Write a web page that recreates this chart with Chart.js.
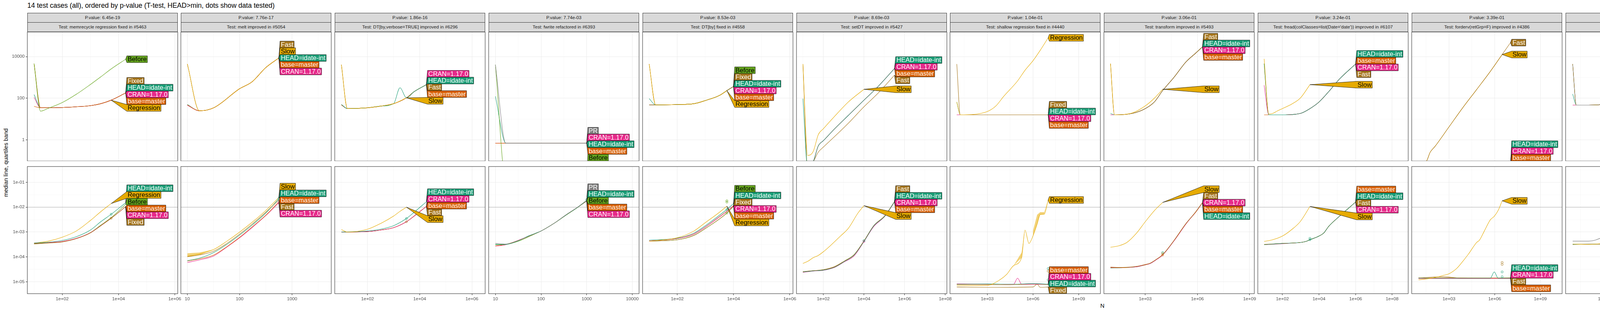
<!DOCTYPE html>
<html>
<head>
<meta charset="utf-8">
<title>atime test cases</title>
<script src="https://cdn.jsdelivr.net/npm/chart.js@4.4.1/dist/chart.umd.min.js"></script>
<style>
  html, body { margin: 0; padding: 0; background: #fff; }
  body { width: 5600px; height: 800px; position: relative; overflow: hidden;
         font-family: 'Liberation Sans', Arial, Helvetica, sans-serif; }
  .abs { position: absolute; }
  .title { left: 70px; top: 3px; font-size: 17.6px; line-height: 22px; color: #000; white-space: nowrap; }
  .strip { box-sizing: border-box; background: #D9D9D9; border: 1px solid #333; font-size: 11.7px;
           color: #1A1A1A; text-align: center; white-space: nowrap; overflow: hidden; line-height: 22px; }
  .rstrip { writing-mode: vertical-rl; line-height: 21px; }
  .axtitle { font-size: 14.7px; color: #000; white-space: nowrap; transform: translate(-50%, -50%); }
</style>
</head>
<body>
<div class="abs title">14 test cases (all), ordered by p-value (T-test, HEAD&gt;min, dots show data tested)</div>
<div class="abs axtitle" style="left:15px; top:417px; transform: translate(-50%, -50%) rotate(-90deg);">median line, quartiles band</div>
<div class="abs axtitle" style="left:2822px; top:784px;">N</div>
<script>
// series colours (Dark2-like) and label text
const seriesColors = {
  HEAD: "#1B9E77", CRAN: "#E7298A", base: "#D95F02", Before: "#66A61E",
  Regression: "#E6AB02", Fixed: "#A6761D", Slow: "#E6AB02", Fast: "#A6761D",
  PR: "#7F7F7F", Slower: "#7F7F7F"
};
const darkTextSeries = ["Before", "Regression", "Slow"];
const labelText = { HEAD: "HEAD=idate-int", CRAN: "CRAN=1.17.0", base: "base=master" };

const pValues = ["6.45e-19", "7.76e-17", "1.86e-16", "7.74e-03", "8.53e-03", "8.69e-03", "1.04e-01",
  "3.06e-01", "3.24e-01", "3.39e-01", "3.85e-01", "4.01e-01", "5.29e-01", "6.17e-01"];
const testNames = [
  "memrecycle regression fixed in #5463", "melt improved in #5054", "DT[by,verbose=TRUE] improved in #6296",
  "fwrite refactored in #6393", "DT[by] fixed in #4558", "setDT improved in #5427",
  "shallow regression fixed in #4440", "transform improved in #5493",
  "fread(colClasses=list(Date='date')) improved in #6107", "forderv(retGrp=F) improved in #4386",
  "DT[,.SD] improved in #4501", "fread(colClasses='Date') improved in #6107",
  "forderv(retGrp=T) improved in #4386", "fread(select=list(Date='date')) improved in #6107"];

// x axis (N) limits per panel, as log10 values at the panel edges
const xLimits = [[0.761, 6.106], [0.876, 3.749], [0.746, 6.508], [0.853, 4.147], [0.765, 6.114],
  [0.683, 8.08], [0.554, 10.43], [0.621, 9.27], [0.654, 8.877], [0.554, 10.43], [0.556, 10.035],
  [0.655, 8.86], [0.572, 10.43], [0.632, 8.857]];
const xBreaks = [[1e2, 1e4, 1e6], [10, 100, 1000], [1e2, 1e4, 1e6], [10, 100, 1000, 10000], [1e2, 1e4, 1e6],
  [1e2, 1e4, 1e6, 1e8], [1e3, 1e6, 1e9], [1e3, 1e6, 1e9], [1e2, 1e4, 1e6, 1e8], [1e3, 1e6, 1e9],
  [1e3, 1e6, 1e9], [1e2, 1e4, 1e6, 1e8], [1e3, 1e6, 1e9], [1e2, 1e4, 1e6, 1e8]];
const xBreakLabels = [["1e+02", "1e+04", "1e+06"], ["10", "100", "1000"], ["1e+02", "1e+04", "1e+06"],
  ["10", "100", "1000", "10000"], ["1e+02", "1e+04", "1e+06"], ["1e+02", "1e+04", "1e+06", "1e+08"],
  ["1e+03", "1e+06", "1e+09"], ["1e+03", "1e+06", "1e+09"], ["1e+02", "1e+04", "1e+06", "1e+08"],
  ["1e+03", "1e+06", "1e+09"], ["1e+03", "1e+06", "1e+09"], ["1e+02", "1e+04", "1e+06", "1e+08"],
  ["1e+03", "1e+06", "1e+09"], ["1e+02", "1e+04", "1e+06", "1e+08"]];
const minorOdd = [10, 1e3, 1e5, 1e7];
const minorHalf = [31.62, 316.2, 3162];
const minorThird = [31.62, 31623, 31622777];
const xMinorBreaks = [minorOdd, minorHalf, minorOdd, minorHalf, minorOdd, minorOdd, minorThird,
  minorThird, minorOdd, minorThird, minorThird, minorOdd, minorThird, minorOdd];

// y axes (shared per row)
const kbBreaks = [1, 100, 10000];
const kbLabels = ["1", "100", "10000"];
const kbMinor = [0.1, 10, 1000, 100000];
const kbLimits = [-1.015, 5.183];
const secBreaks = [1e-5, 1e-4, 1e-3, 1e-2, 1e-1];
const secLabels = ["1e-05", "1e-04", "1e-03", "1e-02", "1e-01"];
const secMinor = [3.162e-5, 3.162e-4, 3.162e-3, 3.162e-2, 3.162e-1];
const secLimits = [-5.476, -0.367];
const secondsLimit = 0.01;

// ---- panel 1: memrecycle ----
const p01KbTail = [[17, 35], [100, 36], [316, 39], [1000, 44], [2350, 55], [5500, 81]];
const p01Kb = {
  Regression: [[10, 4600], ...p01KbTail],
  Fixed: [[10, 4600], ...p01KbTail, [18000, 180]],
  HEAD: [[10, 150], ...p01KbTail, [18000, 180]],
  CRAN: [[10, 110], ...p01KbTail, [18000, 180]],
  base: [[10, 41], ...p01KbTail, [18000, 180]],
  Before: [[10, 4600], [17, 24], [32, 33], [100, 62], [316, 155], [1000, 457], [2350, 1070], [5500, 2560], [18000, 7500]]
};
const p01Sec = {
  Regression: [[10, 3.6e-4], [32, 4.3e-4], [100, 6.2e-4], [316, 1.1e-3], [1000, 2.9e-3], [2350, 6.6e-3], [5500, 1.4e-2]],
  Before: [[10, 3.4e-4], [32, 3.7e-4], [100, 4.1e-4], [316, 5.5e-4], [1000, 9.5e-4], [2350, 1.9e-3], [5500, 3.8e-3], [18000, 1.3e-2]],
  base: [[10, 3.5e-4], [32, 3.7e-4], [100, 4.1e-4], [316, 5.5e-4], [1000, 9.3e-4], [2350, 1.8e-3], [5500, 3.6e-3], [18000, 1.05e-2]],
  CRAN: [[10, 3.6e-4], [32, 3.8e-4], [100, 4.2e-4], [316, 5.6e-4], [1000, 9.4e-4], [2350, 1.8e-3], [5500, 3.6e-3], [18000, 1.05e-2]],
  Fixed: [[10, 3.3e-4], [32, 3.6e-4], [100, 4.0e-4], [316, 5.4e-4], [1000, 9.2e-4], [2350, 1.8e-3], [5500, 3.6e-3], [18000, 1.05e-2]],
  HEAD: [[10, 3.6e-4], [32, 3.9e-4], [100, 4.6e-4], [316, 6.5e-4], [1000, 1.2e-3], [2350, 2.6e-3], [5500, 5.2e-3], [18000, 1.5e-2]]
};
const p01KbOrder = ["Before", "Fixed", "HEAD", "CRAN", "base", "Regression"];
const p01SecOrder = ["HEAD", "Regression", "Before", "base", "CRAN", "Fixed"];
const p01Dots = [["HEAD", 5500, 5.2e-3], ["Fixed", 5500, 3.6e-3]];

// ---- panel 2: melt ----
const p02KbTail = [[17, 25], [32, 35], [100, 290], [170, 600], [316, 3000], [560, 8600]];
const p02Kb = {
  HEAD: [[10, 50], ...p02KbTail],
  CRAN: [[10, 46], ...p02KbTail],
  base: [[10, 48], ...p02KbTail],
  Fast: [[10, 4400], ...p02KbTail],
  Slow: [[10, 4400], ...p02KbTail]
};
const p02Sec = {
  CRAN: [[10, 6.0e-5], [17, 7.6e-5], [32, 1.1e-4], [57, 2.5e-4], [100, 5.9e-4], [178, 1.6e-3], [316, 4.6e-3], [560, 1.5e-2]],
  base: [[10, 6.9e-5], [17, 8.3e-5], [32, 1.2e-4], [57, 2.6e-4], [100, 6.2e-4], [178, 1.7e-3], [316, 4.8e-3], [560, 1.65e-2]],
  HEAD: [[10, 7.1e-5], [17, 8.9e-5], [32, 1.5e-4], [57, 3.2e-4], [100, 7.6e-4], [178, 2.0e-3], [316, 5.8e-3], [560, 2.2e-2]],
  Fast: [[10, 1.02e-4], [17, 1.2e-4], [32, 1.7e-4], [57, 3.5e-4], [100, 8.3e-4], [178, 2.2e-3], [316, 6.3e-3], [560, 1.95e-2]],
  Slow: [[10, 1.07e-4], [17, 1.3e-4], [32, 2.0e-4], [57, 4.3e-4], [100, 1.0e-3], [178, 2.6e-3], [316, 7.4e-3], [560, 2.45e-2]]
};
const p02KbOrder = ["Fast", "Slow", "HEAD", "base", "CRAN"];
const p02SecOrder = ["Slow", "HEAD", "base", "Fast", "CRAN"];
const p02Dots = [["HEAD", 560, 2.2e-2], ["CRAN", 560, 1.5e-2]];
const p02Bands = [["Slow", [[10, 1.0e-4, 1.4e-4], [17, 1.2e-4, 1.5e-4], [32, 2.0e-4, 2.0e-4]]]];

// ---- panel 3: DT[by,verbose=TRUE] ----
const p03KbTail = [[17, 32], [100, 35], [316, 42], [1000, 55], [3100, 105]];
const p03Kb = {
  CRAN: [[10, 48], ...p03KbTail, [6200, 210], [18000, 450]],
  base: [[10, 48], ...p03KbTail, [6200, 210], [18000, 450]],
  Fast: [[10, 4100], ...p03KbTail, [6200, 210], [18000, 450]],
  HEAD: [[10, 51], [17, 32], [100, 35], [316, 42], [1000, 55], [1760, 320], [3100, 105], [6200, 210], [18000, 450]],
  Slow: [[10, 4100], ...p03KbTail]
};
const p03Sec = {
  base: [[10, 1.0e-3], [100, 1.04e-3], [316, 1.2e-3], [1000, 1.5e-3], [3100, 2.6e-3], [6200, 4.5e-3], [18000, 1.08e-2]],
  Fast: [[10, 1.0e-3], [100, 1.04e-3], [316, 1.2e-3], [1000, 1.5e-3], [3100, 2.6e-3], [6200, 4.4e-3], [18000, 1.06e-2]],
  CRAN: [[10, 1.0e-3], [100, 1.05e-3], [316, 1.2e-3], [1000, 1.5e-3], [3100, 2.6e-3], [6200, 4.4e-3], [18000, 1.07e-2]],
  HEAD: [[10, 1.0e-3], [100, 1.1e-3], [316, 1.3e-3], [1000, 1.8e-3], [3100, 3.5e-3], [6200, 6.3e-3], [18000, 1.65e-2]],
  Slow: [[10, 1.25e-3], [17, 1.0e-3], [100, 1.3e-3], [316, 2.2e-3], [1000, 4.4e-3], [1760, 6.8e-3], [3100, 1.0e-2]]
};
const p03KbOrder = ["CRAN", "HEAD", "Fast", "base", "Slow"];
const p03SecOrder = ["HEAD", "CRAN", "base", "Fast", "Slow"];
const p03Dots = [["HEAD", 3100, 3.5e-3], ["Fast", 3100, 2.6e-3]];

// ---- panel 4: fwrite ----
const p04Kb = {
  CRAN: [[10, 0.69], [1000, 0.69]],
  base: [[10, 0.69], [1000, 0.69]],
  HEAD: [[10, 124], [17, 0.69], [1000, 0.69]],
  Before: [[10, 4100], [17, 0.01], [1000, 0.01]],
  PR: [[10, 4100], [17, 0.69], [1000, 0.69]]
};
const p04Sec = {
  CRAN: [[10, 2.7e-4], [17, 3.1e-4], [32, 4.7e-4], [55, 7.0e-4], [100, 1.1e-3], [190, 2.2e-3], [350, 4.8e-3], [630, 9.8e-3], [1000, 1.75e-2]],
  base: [[10, 2.8e-4], [17, 3.2e-4], [32, 4.6e-4], [55, 6.9e-4], [100, 1.1e-3], [190, 2.2e-3], [350, 4.8e-3], [630, 9.8e-3], [1000, 1.8e-2]],
  Before: [[10, 3.1e-4], [17, 3.2e-4], [32, 4.3e-4], [55, 6.6e-4], [100, 1.1e-3], [190, 2.2e-3], [350, 4.7e-3], [630, 9.7e-3], [1000, 1.8e-2]],
  HEAD: [[10, 3.2e-4], [17, 3.2e-4], [32, 4.5e-4], [55, 7.2e-4], [100, 1.1e-3], [190, 2.2e-3], [350, 4.8e-3], [630, 9.8e-3], [1000, 1.85e-2]],
  PR: [[10, 3.5e-4], [17, 3.3e-4], [32, 4.6e-4], [55, 7.0e-4], [100, 1.1e-3], [190, 2.2e-3], [350, 4.9e-3], [630, 1.0e-2], [1000, 1.9e-2]]
};
const p04KbOrder = ["PR", "CRAN", "HEAD", "base", "Before"];
const p04SecOrder = ["PR", "HEAD", "Before", "base", "CRAN"];
const p04Dots = [["HEAD", 1000, 2.0e-2]];

// ---- panel 5: DT[by] ----
const p05KbTail = [[17, 48], [100, 50], [390, 55], [1000, 78], [3200, 138], [5800, 234]];
const p05Kb = {
  base: [[10, 48], ...p05KbTail, [10000, 370]],
  CRAN: [[10, 48], ...p05KbTail, [10000, 370]],
  Before: [[10, 48], ...p05KbTail, [10000, 370]],
  HEAD: [[10, 96], ...p05KbTail, [10000, 370]],
  Fixed: [[10, 4400], ...p05KbTail, [10000, 370]],
  Regression: [[10, 4400], ...p05KbTail]
};
const p05Sec = {
  Before: [[10, 4.3e-4], [100, 4.9e-4], [390, 7.4e-4], [1000, 1.4e-3], [3200, 3.4e-3], [5800, 5.8e-3], [10000, 1.07e-2]],
  Fixed: [[10, 4.3e-4], [100, 4.9e-4], [390, 7.3e-4], [1000, 1.4e-3], [3200, 3.4e-3], [5800, 5.9e-3], [10000, 1.1e-2]],
  base: [[10, 4.4e-4], [100, 5.5e-4], [390, 8.4e-4], [1000, 1.6e-3], [3200, 4.2e-3], [5800, 6.9e-3], [10000, 1.17e-2]],
  CRAN: [[10, 4.4e-4], [100, 5.5e-4], [390, 8.3e-4], [1000, 1.6e-3], [3200, 4.1e-3], [5800, 6.8e-3], [10000, 1.15e-2]],
  HEAD: [[10, 4.7e-4], [100, 5.7e-4], [390, 9.1e-4], [1000, 1.8e-3], [3200, 4.8e-3], [5800, 8.1e-3], [10000, 1.4e-2]],
  Regression: [[10, 4.3e-4], [100, 5.9e-4], [390, 1.1e-3], [1000, 2.4e-3], [3200, 6.3e-3], [5800, 1.1e-2]]
};
const p05KbOrder = ["Before", "Fixed", "HEAD", "CRAN", "base", "Regression"];
const p05SecOrder = ["Before", "HEAD", "Fixed", "CRAN", "base", "Regression"];
const p05Dots = [["HEAD", 5800, 8.1e-3], ["Before", 5800, 5.8e-3], ["Before", 5800, 1.6e-2], ["Before", 5800, 1.8e-2]];

// ---- panel 6: setDT ----
const p06KbTail = [[17, 0.05], [32, 0.09], [57, 0.52], [100, 0.91], [360, 3.4], [1700, 15], [10000, 81], [48000, 355], [320000, 2700]];
const p06Kb = {
  Fast: [[10, 4400], [17, 0.05], [32, 0.09], [57, 0.26], [100, 0.45], [360, 1.45], [1700, 6.3], [10000, 39], [48000, 170], [320000, 1290]],
  base: [[10, 0.05], ...p06KbTail],
  CRAN: [[10, 0.05], ...p06KbTail],
  HEAD: [[10, 96], ...p06KbTail],
  Slow: [[10, 4400], [17, 0.18], [32, 0.28], [57, 1.8], [100, 3.4], [360, 13.5], [1700, 66], [10000, 270]]
};
const p06Sec = {
  Fast: [[10, 2.6e-5], [32, 2.8e-5], [100, 3.1e-5], [360, 4.1e-5], [1100, 6.9e-5], [3300, 1.25e-4], [10000, 4.4e-4], [31000, 1.85e-3], [105000, 4.5e-3], [320000, 1.7e-2]],
  base: [[10, 2.5e-5], [32, 2.8e-5], [100, 3.0e-5], [360, 4.0e-5], [1100, 6.7e-5], [3300, 1.2e-4], [10000, 4.3e-4], [31000, 1.8e-3], [105000, 4.4e-3], [320000, 1.65e-2]],
  CRAN: [[10, 2.4e-5], [32, 2.7e-5], [100, 2.9e-5], [360, 3.8e-5], [1100, 6.4e-5], [3300, 1.1e-4], [10000, 4.1e-4], [31000, 1.7e-3], [105000, 4.2e-3], [320000, 1.6e-2]],
  HEAD: [[10, 2.5e-5], [32, 2.75e-5], [100, 2.95e-5], [360, 3.9e-5], [1100, 6.6e-5], [3300, 1.2e-4], [10000, 4.2e-4], [31000, 1.8e-3], [105000, 4.3e-3], [320000, 1.65e-2]],
  Slow: [[10, 5.5e-5], [17, 6.6e-5], [32, 9.3e-5], [57, 1.15e-4], [100, 1.6e-4], [230, 2.9e-4], [700, 6.9e-4], [1700, 1.4e-3], [5100, 5.8e-3], [10000, 1.15e-2]]
};
const p06KbOrder = ["HEAD", "CRAN", "base", "Fast", "Slow"];
const p06SecOrder = ["Fast", "HEAD", "CRAN", "base", "Slow"];
const p06Dots = [["HEAD", 10000, 4.5e-4], ["CRAN", 10000, 4.2e-4]];

// ---- panel 7: shallow ----
const p07Kb = {
  base: [[10, 16], [1e7, 16]],
  CRAN: [[10, 16], [1e7, 16]],
  HEAD: [[10, 66], [17, 16], [1e7, 16]],
  Fixed: [[10, 4400], [17, 16], [1e7, 16]],
  Regression: [[10, 66], [17, 16], [100, 16.5], [1000, 23], [3700, 43], [12000, 123], [98000, 680], [3e5, 2200], [1e6, 6300], [3e6, 20000], [1e7, 80000]]
};
const p07Sec = {
  Fixed: [[10, 6.2e-6], [1000, 6.0e-6], [1e6, 6.2e-6], [1.9e6, 8.0e-6], [3e6, 6.0e-6], [1e7, 6.2e-6]],
  base: [[10, 7.8e-6], [19000, 7.6e-6], [1e6, 8.0e-6], [1e7, 7.8e-6]],
  CRAN: [[10, 8.3e-6], [54000, 8.0e-6], [98000, 1.4e-5], [1.8e5, 8.0e-6], [1e7, 8.0e-6]],
  HEAD: [[10, 8.0e-6], [1000, 8.2e-6], [54000, 8.0e-6], [1e6, 8.5e-6], [1e7, 8.0e-6]],
  Regression: [[10, 7.2e-6], [100, 7.0e-6], [1000, 7.2e-6], [6700, 1.2e-5], [19000, 2.0e-5], [54000, 4.5e-5], [1.8e5, 9.3e-5], [3e5, 1.2e-3], [5.5e5, 3.5e-4], [1e6, 6.9e-4], [1.9e6, 2.1e-3], [3e6, 5.1e-3], [5.5e6, 5.2e-3], [1e7, 1.95e-2]]
};
const p07KbOrder = ["Regression", "Fixed", "HEAD", "CRAN", "base"];
const p07SecOrder = ["Regression", "base", "CRAN", "HEAD", "Fixed"];
const p07Dots = [["HEAD", 1e7, 3.4e-5], ["Fixed", 1e7, 2.7e-5], ["HEAD", 1e7, 1.2e-5]];
const p07Bands = [["Regression", [[1e6, 6.9e-4, 1.1e-3], [1.9e6, 2.1e-3, 5.0e-3], [3e6, 5.1e-3, 6.3e-3], [5.5e6, 5.2e-3, 6.3e-3], [1e7, 1.95e-2, 1.95e-2]]],
  ["Regression", [[54000, 4.5e-5, 4.5e-5], [1.8e5, 9.3e-5, 1.5e-4], [3e5, 1.2e-3, 1.2e-3]]]];

// ---- panel 8: transform ----
const p08KbTail = [[17, 16], [190, 19], [1000, 32], [3300, 66], [10000, 234], [45000, 1020], [2.2e5, 5600], [7.9e5, 14700], [1.95e6, 29500]];
const p08Kb = {
  base: [[10, 16], ...p08KbTail],
  CRAN: [[10, 16], ...p08KbTail],
  HEAD: [[10, 19], ...p08KbTail],
  Fast: [[10, 4600], ...p08KbTail],
  Slow: [[10, 4600], [17, 16], [51, 16.5], [190, 20], [1000, 43], [3300, 100], [10000, 270]]
};
const p08Sec = {
  HEAD: [[10, 3.6e-5], [51, 3.7e-5], [316, 4.0e-5], [1000, 4.8e-5], [1970, 5.5e-5], [4300, 7.8e-5], [10000, 1.2e-4], [45000, 4.5e-4], [2.2e5, 2.2e-3], [7.9e5, 6.3e-3], [1.95e6, 1.5e-2]],
  base: [[10, 3.7e-5], [51, 3.7e-5], [316, 4.1e-5], [1000, 4.8e-5], [1970, 5.6e-5], [4300, 7.9e-5], [10000, 1.2e-4], [45000, 4.6e-4], [2.2e5, 2.2e-3], [7.9e5, 6.2e-3], [1.95e6, 1.5e-2]],
  CRAN: [[10, 3.8e-5], [51, 3.8e-5], [316, 4.0e-5], [1000, 4.9e-5], [1970, 5.5e-5], [4300, 7.7e-5], [10000, 1.2e-4], [45000, 4.4e-4], [2.2e5, 2.1e-3], [7.9e5, 6.4e-3], [1.95e6, 1.5e-2]],
  Fast: [[10, 3.9e-5], [51, 3.8e-5], [316, 4.2e-5], [1000, 5.0e-5], [1970, 5.7e-5], [4300, 8.0e-5], [10000, 1.25e-4], [45000, 4.6e-4], [2.2e5, 2.2e-3], [7.9e5, 6.5e-3], [1.95e6, 1.55e-2]],
  Slow: [[10, 2.45e-4], [30, 2.8e-4], [87, 3.8e-4], [316, 9.1e-4], [1000, 2.6e-3], [3300, 7.2e-3], [10000, 1.55e-2]]
};
const p08KbOrder = ["Fast", "HEAD", "CRAN", "base", "Slow"];
const p08SecOrder = ["Slow", "Fast", "CRAN", "base", "HEAD"];
const p08Dots = [["base", 10000, 1.2e-4], ["Fast", 10000, 1.35e-4], ["HEAD", 10000, 1.5e-4]];

// ---- panel 9: fread(colClasses=list(Date='date')) ----
const p09KbTail = [[18, 16], [100, 16], [930, 18.6], [3200, 32], [10000, 66], [38000, 234], [1.3e5, 830], [1e6, 4400]];
const p09Kb = {
  base: [[10, 16], ...p09KbTail],
  Fast: [[10, 4600], ...p09KbTail],
  CRAN: [[10, 420], ...p09KbTail],
  HEAD: [[10, 4600], ...p09KbTail],
  Slow: [[10, 7800], [18, 17.5], [29, 18.6], [54, 25], [100, 32], [340, 54], [930, 100], [3200, 450]]
};
const p09SecTail = [[930, 3.8e-4], [1950, 4.2e-4], [3200, 4.9e-4], [10000, 6.9e-4], [18000, 9.1e-4], [34000, 1.7e-3], [1.3e5, 4.3e-3], [1e6, 1.6e-2]];
const p09Sec = {
  CRAN: [[10, 3.1e-4], [100, 3.4e-4], ...p09SecTail],
  Fast: [[10, 3.2e-4], [100, 3.5e-4], ...p09SecTail],
  base: [[10, 3.1e-4], [100, 3.5e-4], ...p09SecTail],
  HEAD: [[10, 3.1e-4], [100, 3.5e-4], ...p09SecTail],
  Slow: [[10, 4.2e-4], [29, 4.9e-4], [100, 6.9e-4], [340, 1.3e-3], [930, 2.6e-3], [3200, 1.07e-2]]
};
const p09KbOrder = ["HEAD", "base", "CRAN", "Fast", "Slow"];
const p09SecOrder = ["base", "HEAD", "Fast", "CRAN", "Slow"];
const p09Dots = [["HEAD", 3200, 4.9e-4], ["HEAD", 3200, 5.6e-4]];

// ---- panel 10: forderv(retGrp=F) ----
const p10Kb = {
  base: [[10, 0.05], [1.1e7, 0.05]],
  CRAN: [[10, 0.05], [1.1e7, 0.05]],
  HEAD: [[10, 0.05], [1.1e7, 0.05]],
  Slow: [[10, 0.09], [30, 0.09], [59, 0.26], [124, 0.5], [1000, 4.2], [8000, 35], [65000, 260], [5.2e5, 1950], [3.1e6, 12600]],
  Fast: [[10, 0.09], [30, 0.09], [59, 0.26], [124, 0.5], [1000, 4.2], [8000, 35], [65000, 260], [5.2e5, 1950], [3.1e6, 12600], [1.1e7, 47000]]
};
const p10Sec = {
  base: [[10, 1.4e-5], [1000, 1.45e-5], [1.1e7, 1.4e-5]],
  Fast: [[10, 1.45e-5], [410, 1.6e-5], [8000, 1.4e-5], [1.1e7, 1.45e-5]],
  CRAN: [[10, 1.35e-5], [1.1e7, 1.35e-5]],
  HEAD: [[10, 1.4e-5], [5.2e5, 1.4e-5], [9.4e5, 2.5e-5], [1.7e6, 1.4e-5], [1.1e7, 1.4e-5]],
  Slow: [[10, 1.2e-5], [30, 1.3e-5], [124, 1.5e-5], [410, 1.8e-5], [1000, 2.1e-5], [3300, 3.5e-5], [8000, 6.6e-5], [19000, 1.3e-4], [65000, 3.8e-4], [1e5, 4.7e-4], [2.1e5, 1.1e-3], [5.2e5, 3.1e-3], [9.4e5, 4.3e-3], [1.7e6, 7.4e-3], [3.1e6, 1.8e-2]]
};
const p10KbOrder = ["Fast", "Slow", "HEAD", "CRAN", "base"];
const p10SecOrder = ["Slow", "HEAD", "CRAN", "Fast", "base"];
const p10Dots = [["Fast", 3.1e6, 6.0e-5], ["Fast", 3.1e6, 5.0e-5], ["HEAD", 3.1e6, 2.5e-5], ["HEAD", 3.1e6, 1.6e-5]];

// ---- panel 11: DT[,.SD] ----
const p11KbTail = [[17, 47], [100, 47], [1000, 52], [5900, 73], [32000, 290], [1.05e5, 830], [3.2e5, 2500], [1e6, 10700], [5.8e6, 45000]];
const p11Kb = {
  base: [[10, 47], ...p11KbTail],
  CRAN: [[10, 47], ...p11KbTail],
  HEAD: [[10, 160], ...p11KbTail],
  Fast: [[10, 4400], ...p11KbTail],
  Slow: [[10, 4400], [17, 47], [100, 47], [1000, 52], [5900, 73], [32000, 290], [1.05e5, 830], [3.2e5, 2500]],
  Slower: [[10, 4400], [17, 47], [100, 47], [1000, 54], [5900, 91], [32000, 420]]
};
const p11Sec = {
  base: [[10, 3.2e-4], [1000, 3.3e-4], [32000, 3.8e-4], [59000, 4.8e-4], [1.05e5, 5.8e-4], [3.2e5, 1.1e-3], [1e6, 1.8e-3], [1.8e6, 2.6e-3], [5.8e6, 1.26e-2]],
  CRAN: [[10, 3.2e-4], [1000, 3.3e-4], [32000, 3.8e-4], [59000, 4.9e-4], [1.05e5, 5.9e-4], [3.2e5, 1.1e-3], [1e6, 1.8e-3], [1.8e6, 2.6e-3], [5.8e6, 1.26e-2]],
  Fast: [[10, 3.2e-4], [1000, 3.3e-4], [32000, 3.8e-4], [59000, 5.5e-4], [1.05e5, 6.5e-4], [3.2e5, 1.2e-3], [1e6, 1.9e-3], [1.8e6, 2.7e-3], [5.8e6, 1.26e-2]],
  HEAD: [[10, 3.2e-4], [1000, 3.3e-4], [32000, 3.5e-4], [1.05e5, 4.5e-4], [3.2e5, 1.7e-3], [5.8e5, 9.1e-4], [1e6, 1.5e-3], [1.8e6, 2.8e-3], [5.8e6, 1.26e-2]],
  Slow: [[10, 3.3e-4], [100, 3.2e-4], [1000, 3.5e-4], [5900, 4.2e-4], [32000, 6.9e-4], [59000, 1.1e-3], [1.05e5, 1.8e-3], [1.9e5, 4.4e-3], [3.2e5, 1.1e-2]],
  Slower: [[10, 4.3e-4], [100, 4.3e-4], [1000, 6.9e-4], [3300, 1.3e-3], [10500, 2.8e-3], [32000, 1.0e-2]]
};
const p11KbOrder = ["Fast", "HEAD", "CRAN", "base", "Slow", "Slower"];
const p11SecOrder = ["HEAD", "base", "CRAN", "Fast", "Slow", "Slower"];
const p11Dots = [["HEAD", 32000, 3.5e-4], ["HEAD", 32000, 4.3e-4], ["HEAD", 32000, 5.0e-4]];
const p11Bands = [["HEAD", [[5.8e5, 9.1e-4, 9.1e-4], [1e6, 1.5e-3, 2.2e-3], [1.8e6, 2.8e-3, 8.7e-2], [5.8e6, 1.26e-2, 0.25]]],
  ["Fast", [[32000, 3.8e-4, 3.8e-4], [59000, 5.5e-4, 9.0e-4], [1.05e5, 6.5e-4, 1.1e-3], [3.2e5, 1.2e-3, 1.4e-3]]]];

// ---- panel 12: fread(colClasses='Date') ----
const p12KbRest = [[10, 16], [100, 16], [640, 18.6], [3000, 32], [10000, 66], [34000, 234], [1.15e5, 760], [1e6, 4400]];
const p12Kb = {
  Fast: p12KbRest, base: p12KbRest, CRAN: p12KbRest, HEAD: p12KbRest,
  Slow: [[10, 16], [31, 18.6], [54, 25], [100, 32], [270, 54], [560, 91], [3000, 450]]
};
const p12SecTail = [[640, 3.8e-4], [1700, 4.2e-4], [3000, 4.9e-4], [10000, 6.9e-4], [16000, 9.1e-4], [34000, 1.7e-3], [1.5e5, 4.3e-3], [1e6, 1.6e-2]];
const p12Sec = {
  CRAN: [[10, 3.1e-4], [100, 3.4e-4], ...p12SecTail],
  Fast: [[10, 3.1e-4], [100, 3.5e-4], ...p12SecTail],
  base: [[10, 3.2e-4], [100, 3.5e-4], ...p12SecTail],
  HEAD: [[10, 3.1e-4], [100, 3.5e-4], ...p12SecTail],
  Slow: [[10, 4.2e-4], [31, 4.9e-4], [100, 6.9e-4], [300, 1.3e-3], [640, 2.2e-3], [3000, 1.07e-2]]
};
const p12KbOrder = ["HEAD", "CRAN", "base", "Fast", "Slow"];
const p12SecOrder = ["HEAD", "base", "Fast", "CRAN", "Slow"];
const p12Dots = [["base", 3000, 4.9e-4], ["base", 3000, 5.6e-4]];

// ---- panel 13: forderv(retGrp=T) ----
const p13Kb = {
  base: [[10, 14], [18, 0.05], [1.07e7, 0.05]],
  CRAN: [[10, 14], [18, 0.05], [1.07e7, 0.05]],
  HEAD: [[10, 14], [18, 0.05], [1.07e7, 0.05]],
  Slow: [[10, 4400], [18, 0.05], [31, 0.09], [56, 0.26], [1000, 4.2], [8700, 35], [69000, 260], [5.5e5, 1950], [3.3e6, 12600]],
  Fast: [[10, 4400], [18, 0.05], [31, 0.09], [56, 0.26], [1000, 4.2], [8700, 35], [69000, 260], [5.5e5, 1950], [3.3e6, 12600], [1.07e7, 47000]]
};
const p13Sec = {
  CRAN: [[10, 2.0e-5], [137, 1.5e-5], [1.07e7, 1.5e-5]],
  base: [[10, 2.0e-5], [137, 1.5e-5], [1000, 1.6e-5], [1.07e7, 1.5e-5]],
  Fast: [[10, 1.9e-5], [137, 1.5e-5], [1.07e7, 1.55e-5]],
  HEAD: [[10, 2.1e-5], [31, 2.3e-5], [137, 1.5e-5], [5.5e5, 1.5e-5], [1e6, 2.3e-5], [1.8e6, 1.5e-5], [1.07e7, 1.5e-5]],
  Slow: [[10, 1.8e-5], [31, 1.7e-5], [137, 1.8e-5], [1000, 2.1e-5], [2700, 3.2e-5], [6500, 7.6e-5], [16000, 2.2e-4], [52000, 3.8e-4], [94000, 4.9e-4], [1.7e5, 1.0e-3], [3e5, 1.7e-3], [1e6, 4.8e-3], [1.8e6, 8.9e-3], [3.3e6, 1.65e-2]]
};
const p13KbOrder = ["Fast", "Slow", "HEAD", "CRAN", "base"];
const p13SecOrder = ["Slow", "HEAD", "Fast", "base", "CRAN"];
const p13Dots = [["CRAN", 3.3e6, 6.6e-5], ["HEAD", 3.3e6, 5.0e-5], ["CRAN", 3.3e6, 3.0e-5]];

// ---- panel 14: fread(select=list(Date='date')) ----
const p14KbRest = [[10, 16], [100, 16], [1000, 20], [3100, 32], [10000, 66], [31000, 155], [1.35e5, 680], [1e6, 4400]];
const p14Kb = {
  Fast: p14KbRest, base: p14KbRest, CRAN: p14KbRest, HEAD: p14KbRest,
  Slow: [[10, 16], [18, 18.6], [32, 19.5], [56, 26], [100, 32], [270, 54], [1000, 155], [3100, 450]]
};
const p14SecTail = [[1000, 4.2e-4], [1900, 4.3e-4], [3100, 4.9e-4], [10000, 7.1e-4], [17000, 9.4e-4], [31000, 1.7e-3], [1.35e5, 4.3e-3], [1e6, 1.6e-2]];
const p14Sec = {
  CRAN: [[10, 3.0e-4], [100, 3.5e-4], ...p14SecTail],
  Fast: [[10, 3.0e-4], [100, 3.6e-4], ...p14SecTail],
  HEAD: [[10, 3.0e-4], [100, 3.6e-4], ...p14SecTail],
  base: [[10, 3.1e-4], [100, 3.6e-4], ...p14SecTail],
  Slow: [[10, 4.2e-4], [32, 4.9e-4], [100, 7.6e-4], [316, 1.55e-3], [1000, 3.5e-3], [3100, 1.07e-2]]
};
const p14KbOrder = ["HEAD", "CRAN", "base", "Fast", "Slow"];
const p14SecOrder = ["base", "HEAD", "Fast", "CRAN", "Slow"];
const p14Dots = [["base", 3100, 4.9e-4], ["base", 3100, 5.6e-4]];

const panels = [
  { kb: p01Kb, sec: p01Sec, kbOrder: p01KbOrder, secOrder: p01SecOrder, dots: p01Dots },
  { kb: p02Kb, sec: p02Sec, kbOrder: p02KbOrder, secOrder: p02SecOrder, dots: p02Dots, bands: p02Bands },
  { kb: p03Kb, sec: p03Sec, kbOrder: p03KbOrder, secOrder: p03SecOrder, dots: p03Dots },
  { kb: p04Kb, sec: p04Sec, kbOrder: p04KbOrder, secOrder: p04SecOrder, dots: p04Dots },
  { kb: p05Kb, sec: p05Sec, kbOrder: p05KbOrder, secOrder: p05SecOrder, dots: p05Dots },
  { kb: p06Kb, sec: p06Sec, kbOrder: p06KbOrder, secOrder: p06SecOrder, dots: p06Dots },
  { kb: p07Kb, sec: p07Sec, kbOrder: p07KbOrder, secOrder: p07SecOrder, dots: p07Dots, bands: p07Bands },
  { kb: p08Kb, sec: p08Sec, kbOrder: p08KbOrder, secOrder: p08SecOrder, dots: p08Dots },
  { kb: p09Kb, sec: p09Sec, kbOrder: p09KbOrder, secOrder: p09SecOrder, dots: p09Dots },
  { kb: p10Kb, sec: p10Sec, kbOrder: p10KbOrder, secOrder: p10SecOrder, dots: p10Dots },
  { kb: p11Kb, sec: p11Sec, kbOrder: p11KbOrder, secOrder: p11SecOrder, dots: p11Dots, bands: p11Bands },
  { kb: p12Kb, sec: p12Sec, kbOrder: p12KbOrder, secOrder: p12SecOrder, dots: p12Dots },
  { kb: p13Kb, sec: p13Sec, kbOrder: p13KbOrder, secOrder: p13SecOrder, dots: p13Dots },
  { kb: p14Kb, sec: p14Sec, kbOrder: p14KbOrder, secOrder: p14SecOrder, dots: p14Dots }
];

// layout
const PANEL_X0 = 69.5, PANEL_PITCH = 393.8, PANEL_W = 385, SIDE_PAD = 30;
const ROWS = [{ top: 82, h: 331, unit: "kilobytes" }, { top: 422, h: 331, unit: "seconds" }];
const LABEL_H = 17.3, LABEL_FONT = 16.5;
const FONT = "'Liberation Sans', Arial, Helvetica, sans-serif";

Chart.defaults.font.family = FONT;
Chart.defaults.color = "#4D4D4D";

// stack labels top-to-bottom, as close to their anchors as possible (no overlap)
function stackLabels(desired, h, top, bottom) {
  const blocks = [];
  desired.forEach((d, i) => {
    blocks.push({ sum: d - i * h, n: 1 });
    while (blocks.length > 1) {
      const b = blocks[blocks.length - 1], a = blocks[blocks.length - 2];
      if (a.sum / a.n <= b.sum / b.n) break;
      a.sum += b.sum; a.n += b.n; blocks.pop();
    }
  });
  const pos = [];
  blocks.forEach(b => { for (let k = 0; k < b.n; k++) pos.push(b.sum / b.n + pos.length * h); });
  const n = pos.length;
  for (let i = 0; i < n; i++) pos[i] = Math.max(pos[i], top + h / 2 + i * h);
  for (let i = n - 1; i >= 0; i--) pos[i] = Math.min(pos[i], bottom - h / 2 - (n - 1 - i) * h);
  return pos;
}

function makeDecor(order, hline) {
  return {
    id: "panelDecor",
    beforeDatasetsDraw(chart) {
      if (hline == null) return;
      const { ctx, chartArea: a, scales: { y } } = chart;
      const py = y.getPixelForValue(hline);
      ctx.save();
      ctx.strokeStyle = "#ABABAB"; ctx.lineWidth = 1.1;
      ctx.beginPath(); ctx.moveTo(a.left, py); ctx.lineTo(a.right, py); ctx.stroke();
      ctx.restore();
    },
    afterDatasetsDraw(chart) {
      const { ctx, chartArea: a, scales: { x, y } } = chart;
      const anchors = {};
      chart.data.datasets.forEach(ds => {
        if (!ds.seriesKey) return;
        const last = ds.data[ds.data.length - 1];
        anchors[ds.seriesKey] = { x: x.getPixelForValue(last.x), y: y.getPixelForValue(last.y) };
      });
      const keys = order.filter(k => anchors[k]);
      const boxLeft = Math.max(...keys.map(k => anchors[k].x)) + 3;
      const desired = keys.map(k => Math.min(Math.max(anchors[k].y, a.top + LABEL_H / 2), a.bottom - 1.5 * LABEL_H));
      const pos = stackLabels(desired, LABEL_H, a.top, a.bottom);

      ctx.save();
      ctx.beginPath(); ctx.rect(a.left, a.top, a.right - a.left, a.bottom - a.top); ctx.clip();
      ctx.font = LABEL_FONT + "px " + FONT;
      ctx.textBaseline = "alphabetic";
      ctx.textAlign = "left";
      keys.forEach((k, i) => {
        const txt = labelText[k] || k;
        const w = ctx.measureText(txt).width + 4;
        const t = pos[i] - LABEL_H / 2, b = pos[i] + LABEL_H / 2;
        const an = anchors[k];
        ctx.beginPath();
        ctx.moveTo(an.x, an.y);
        ctx.lineTo(boxLeft, t);
        ctx.lineTo(boxLeft + w, t);
        ctx.lineTo(boxLeft + w, b);
        ctx.lineTo(boxLeft, b);
        ctx.closePath();
        ctx.fillStyle = seriesColors[k];
        ctx.fill();
        ctx.strokeStyle = "#000"; ctx.lineWidth = 0.8;
        ctx.stroke();
        ctx.fillStyle = darkTextSeries.includes(k) ? "#000" : "#FFF";
        ctx.fillText(txt, boxLeft + 2, pos[i] + 5.5);
      });
      ctx.restore();

      ctx.save();
      ctx.strokeStyle = "#333333"; ctx.lineWidth = 1.1;
      ctx.strokeRect(a.left, a.top, a.right - a.left, a.bottom - a.top);
      ctx.restore();
    }
  };
}

function buildDatasets(series, bands, dots) {
  const sets = [];
  (bands || []).forEach(([key, rows]) => {
    sets.push({ data: rows.map(r => ({ x: r[0], y: r[1] })), borderWidth: 0, borderColor: "rgba(0,0,0,0)",
      pointRadius: 0, fill: false, order: 1000 });
    sets.push({ data: rows.map(r => ({ x: r[0], y: r[2] })), borderWidth: 0, borderColor: "rgba(0,0,0,0)",
      pointRadius: 0, fill: "-1", backgroundColor: seriesColors[key] + "88", order: 1000 });
  });
  Object.keys(series).forEach((key, i) => {
    sets.push({
      seriesKey: key,
      data: series[key].map(([x, y]) => ({ x, y })),
      borderColor: seriesColors[key], borderWidth: 1.1, pointRadius: 0, fill: false,
      cubicInterpolationMode: "monotone", order: 500 - i
    });
  });
  (dots || []).forEach(([key, x, y]) => {
    sets.push({ data: [{ x, y }], showLine: false, pointRadius: 2.6, pointBorderWidth: 1,
      pointBorderColor: seriesColors[key], pointBackgroundColor: "rgba(0,0,0,0)", order: 0 });
  });
  return sets;
}

function logAxis(lim, majors, labels, minors, showTicks, fitSize, horizontal) {
  const isMajor = v => majors.includes(v);
  return {
    type: "logarithmic", bounds: "data",
    min: Math.pow(10, lim[0]), max: Math.pow(10, lim[1]),
    afterBuildTicks: s => {
      s.ticks = [...majors, ...minors].filter(v => v >= s.min && v <= s.max)
        .sort((p, q) => p - q).map(v => ({ value: v }));
    },
    ticks: {
      display: showTicks, autoSkip: false, maxRotation: 0, minRotation: 0, padding: 3,
      color: "#4D4D4D", font: { size: 11.7 },
      callback: v => { const i = majors.indexOf(v); return i < 0 ? "" : labels[i]; }
    },
    grid: {
      color: c => (c.tick && isMajor(c.tick.value)) ? "#EBEBEB" : "#F3F3F3",
      lineWidth: c => (c.tick && isMajor(c.tick.value)) ? 1.1 : 0.6,
      drawTicks: showTicks, tickLength: 4, tickWidth: 1.1,
      tickColor: c => (c.tick && isMajor(c.tick.value)) ? "#333333" : "rgba(0,0,0,0)"
    },
    border: { display: false },
    afterFit: s => {
      if (horizontal) s.height = fitSize; else s.width = fitSize;
      s.paddingLeft = 0; s.paddingRight = 0; s.paddingTop = 0; s.paddingBottom = 0;
    }
  };
}

function addDiv(cls, style, text) {
  const d = document.createElement("div");
  d.className = "abs " + cls;
  Object.assign(d.style, style);
  if (text != null) d.textContent = text;
  document.body.appendChild(d);
  return d;
}

panels.forEach((p, c) => {
  const left = Math.round(PANEL_X0 + c * PANEL_PITCH);
  addDiv("strip", { left: left + "px", top: "33px", width: PANEL_W + "px", height: "25px" }, "P.value: " + pValues[c]);
  addDiv("strip", { left: left + "px", top: "57px", width: PANEL_W + "px", height: "25px" }, "Test: " + testNames[c]);

  ROWS.forEach((row, r) => {
    const isFirst = c === 0, isBottom = r === 1;
    const padL = isFirst ? 0 : SIDE_PAD;
    const yAxisW = isFirst ? left : 0;
    const xAxisH = isBottom ? 24 : 0;
    const divLeft = isFirst ? 0 : left - SIDE_PAD;
    const host = addDiv("", {
      left: divLeft + "px", top: row.top + "px",
      width: (padL + yAxisW + PANEL_W + SIDE_PAD) + "px", height: (row.h + xAxisH) + "px"
    });
    const canvas = document.createElement("canvas");
    host.appendChild(canvas);

    const series = isBottom ? p.sec : p.kb;
    const order = isBottom ? p.secOrder : p.kbOrder;
    const datasets = buildDatasets(series, isBottom ? p.bands : null, isBottom ? p.dots : null);

    new Chart(canvas, {
      type: "line",
      data: { datasets },
      options: {
        responsive: true, maintainAspectRatio: false, animation: false,
        layout: { padding: { left: padL, right: SIDE_PAD, top: 0, bottom: 0 } },
        plugins: { legend: { display: false }, tooltip: { enabled: false } },
        scales: {
          x: logAxis(xLimits[c], xBreaks[c], xBreakLabels[c], xMinorBreaks[c], isBottom, xAxisH, true),
          y: isBottom
            ? logAxis(secLimits, secBreaks, secLabels, secMinor, isFirst, yAxisW, false)
            : logAxis(kbLimits, kbBreaks, kbLabels, kbMinor, isFirst, yAxisW, false)
        }
      },
      plugins: [makeDecor(order, isBottom ? secondsLimit : null)]
    });
  });
});

ROWS.forEach(row => {
  addDiv("strip rstrip", { left: "5576px", top: row.top + "px", width: "23px", height: row.h + "px" }, "unit: " + row.unit);
});
</script>
</body>
</html>
